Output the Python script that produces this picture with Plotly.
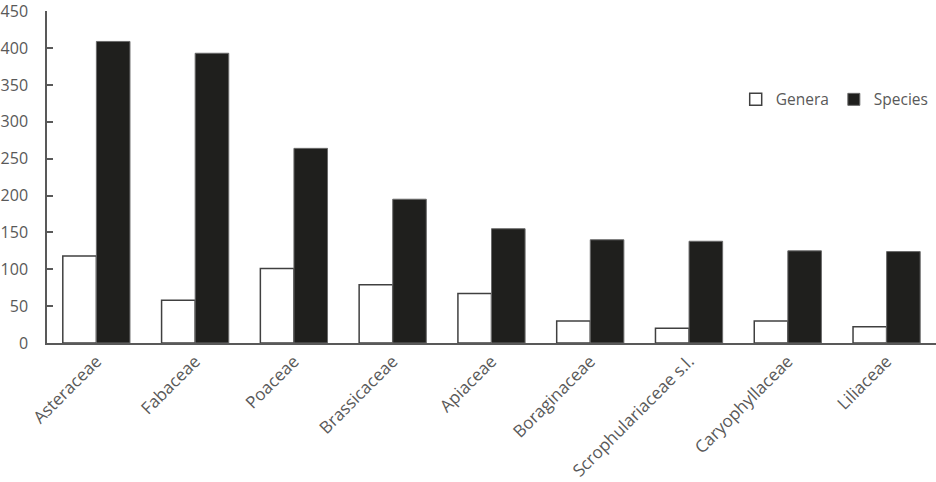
import plotly.graph_objects as go

families = ["Asteraceae", "Fabaceae", "Poaceae", "Brassicaceae", "Apiaceae",
            "Boraginaceae", "Scrophulariaceae s.l.", "Caryophyllaceae", "Liliaceae"]
genera = [118, 58, 101, 79, 67, 30, 20, 30, 22]
species = [409, 393, 264, 195, 155, 140, 138, 125, 124]
y_ticks = [0, 50, 100, 150, 200, 250, 300, 350, 400, 450]

FONT = "Open Sans"
GRAY = "#595959"

fig = go.Figure()
fig.add_trace(go.Bar(x=families, y=genera, name="Genera",
                     marker=dict(color="white", line=dict(color="#404040", width=1.5))))
fig.add_trace(go.Bar(x=families, y=species, name="Species",
                     marker=dict(color="#1f1f1d", line=dict(color="#6a6a6a", width=1))))

fig.update_layout(
    width=936, height=482,
    margin=dict(l=47, r=0, t=11, b=139, autoexpand=False),
    plot_bgcolor="white", paper_bgcolor="white",
    barmode="group", bargap=0.32, bargroupgap=0,
    font=dict(family=FONT, color=GRAY, size=16),
    showlegend=True,
    legend=dict(orientation="h", xref="container", yref="container",
                x=0.786, y=0.793, xanchor="left", yanchor="middle",
                font=dict(size=15.5, color=GRAY), bgcolor="rgba(0,0,0,0)",
                itemwidth=30, tracegroupgap=0),
)
fig.update_xaxes(showline=True, linecolor=GRAY, linewidth=1.5, ticks="",
                 tickangle=-45, tickfont=dict(size=17, color=GRAY), showgrid=False)
fig.update_yaxes(range=[0, 450.3], tickvals=y_ticks, showline=True, linecolor=GRAY, linewidth=1.5,
                 ticks="inside", ticklen=6, tickcolor=GRAY, tickwidth=1.5,
                 ticklabelstandoff=14, ticklabeloverflow="allow",
                 tickfont=dict(size=16, color=GRAY),
                 showgrid=False, zeroline=False)

fig.write_html("out.html")
